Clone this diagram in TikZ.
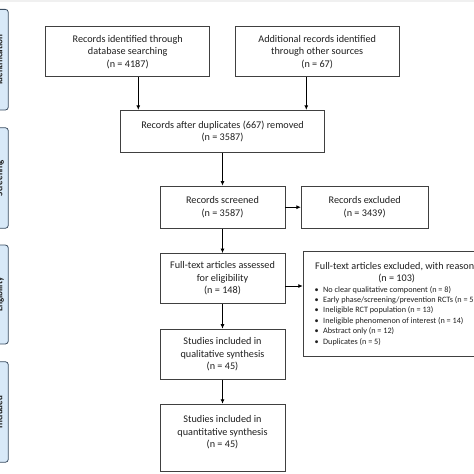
\documentclass[tikz,border=0pt]{standalone}
\usepackage{graphicx}
\usepackage{fontspec}
\setmainfont{Carlito}
\usetikzlibrary{arrows.meta}
\definecolor{txtc}{rgb}{0.12,0.12,0.12}
\definecolor{boxc}{rgb}{0.25,0.25,0.25}
\definecolor{sidef}{RGB}{216,233,248}
\definecolor{sidec}{RGB}{60,78,98}
\newcommand{\sidetext}[1]{\rotatebox{90}{\raisebox{0pt}[\height][0pt]{#1}}}
\begin{document}
\begin{tikzpicture}[x=1pt,y=-1pt,
  box/.style={draw=boxc, line width=0.9pt, rectangle, align=center,
    font=\fontsize{10.2}{12.5}\selectfont, text=txtc, inner sep=0pt},
  arr/.style={-{Latex[length=4.5pt,width=4pt]}, line width=0.8pt, draw=black},
  side/.style={draw=sidec, fill=sidef, rounded corners=3pt, line width=0.8pt,
    minimum width=30pt, inner sep=0pt},
  sidelbl/.style={anchor=east, text=txtc, inner sep=0pt,
    font=\bfseries\fontsize{9}{10}\selectfont},
  bul/.style={anchor=base west, text=txtc, inner sep=0pt,
    font=\fontsize{8.2}{10.4}\selectfont}]
\useasboundingbox (0,0) rectangle (474,474);
\fill[gray!12] (0,0) rectangle (474,2);
% side labels
\node[side, minimum height=100.7pt] (s1) at (-6.7,59.7) {};
\node[side, minimum height=100.6pt] (s2) at (-6.7,178) {};
\node[side, minimum height=99pt] (s3) at (-6.7,294.5) {};
\node[side, minimum height=100.6pt] (s4) at (-6.7,412) {};
\node[sidelbl] (l1) at (2.5,59.7) {\sidetext{Identification}};
\node[sidelbl] (l2) at (2.5,178) {\sidetext{Screening}};
\node[sidelbl] (l3) at (2.5,294.5) {\sidetext{Eligibility}};
\node[sidelbl] (l4) at (2.5,412) {\sidetext{Included}};
% boxes
\node[box, minimum width=164pt, minimum height=50pt] (b1) at (127.7,51.7)
  {Records identified through\\database searching\\(n = 4187)};
\node[box, minimum width=164.3pt, minimum height=50pt] (b2) at (317.2,51.7)
  {Additional records identified\\through other sources\\(n = 67)};
\node[box, minimum width=203.6pt, minimum height=42.4pt] (b3) at (222.5,131.5)
  {Records after duplicates (667) removed\\(n = 3587)};
\node[box, minimum width=125pt, minimum height=42.3pt] (b4) at (222.5,207.2)
  {Records screened\\(n = 3587)};
\node[box, minimum width=126.7pt, minimum height=42.3pt] (b5) at (364.7,207.2)
  {Records excluded\\(n = 3439)};
\node[box, minimum width=125pt, minimum height=50pt] (b6) at (222.5,278.5)
  {Full-text articles assessed\\for eligibility\\(n = 148)};
\node[box, minimum width=125pt, minimum height=50.3pt] (b7) at (222.5,354.3)
  {Studies included in\\qualitative synthesis\\(n = 45)};
\node[box, minimum width=125pt, minimum height=67.6pt] (b8) at (222.5,438)
  {Studies included in\\quantitative synthesis\\(n = 45)\\\mbox{}};
\node[box, minimum width=187pt, minimum height=104.5pt] (excl) at (396.7,303.8) {};
\node[text=txtc, align=center, inner sep=0pt, font=\fontsize{10.2}{12.5}\selectfont]
  (et) at (396.7,272.5) {Full-text articles excluded, with reasons\\(n = 103)};
\node[bul] (e1) at (314.5,292) {\makebox[8.5pt][l]{\textbullet}No clear qualitative component (n = 8)};
\node[bul] (e2) at (314.5,302.4) {\makebox[8.5pt][l]{\textbullet}Early phase/screening/prevention RCTs (n = 51)};
\node[bul] (e3) at (314.5,312.8) {\makebox[8.5pt][l]{\textbullet}Ineligible RCT population (n = 13)};
\node[bul] (e4) at (314.5,323.2) {\makebox[8.5pt][l]{\textbullet}Ineligible phenomenon of interest (n = 14)};
\node[bul] (e5) at (314.5,333.6) {\makebox[8.5pt][l]{\textbullet}Abstract only (n = 12)};
\node[bul] (e6) at (314.5,344) {\makebox[8.5pt][l]{\textbullet}Duplicates (n = 5)};
% arrows
\coordinate (c1) at (138.3,0);
\coordinate (c2) at (306.3,0);
\coordinate (c3) at (0,286);
\draw[arr] (b1.south -| c1) -- (b3.north -| c1);
\draw[arr] (b2.south -| c2) -- (b3.north -| c2);
\draw[arr] (b3.south) -- (b4.north);
\draw[arr] (b4.east) -- (b5.west);
\draw[arr] (b4.south) -- (b6.north);
\draw[arr] (b6.east |- c3) -- (excl.west |- c3);
\draw[arr] (b6.south) -- (b7.north);
\draw[arr] (b7.south) -- (b8.north);
\end{tikzpicture}
\end{document}
